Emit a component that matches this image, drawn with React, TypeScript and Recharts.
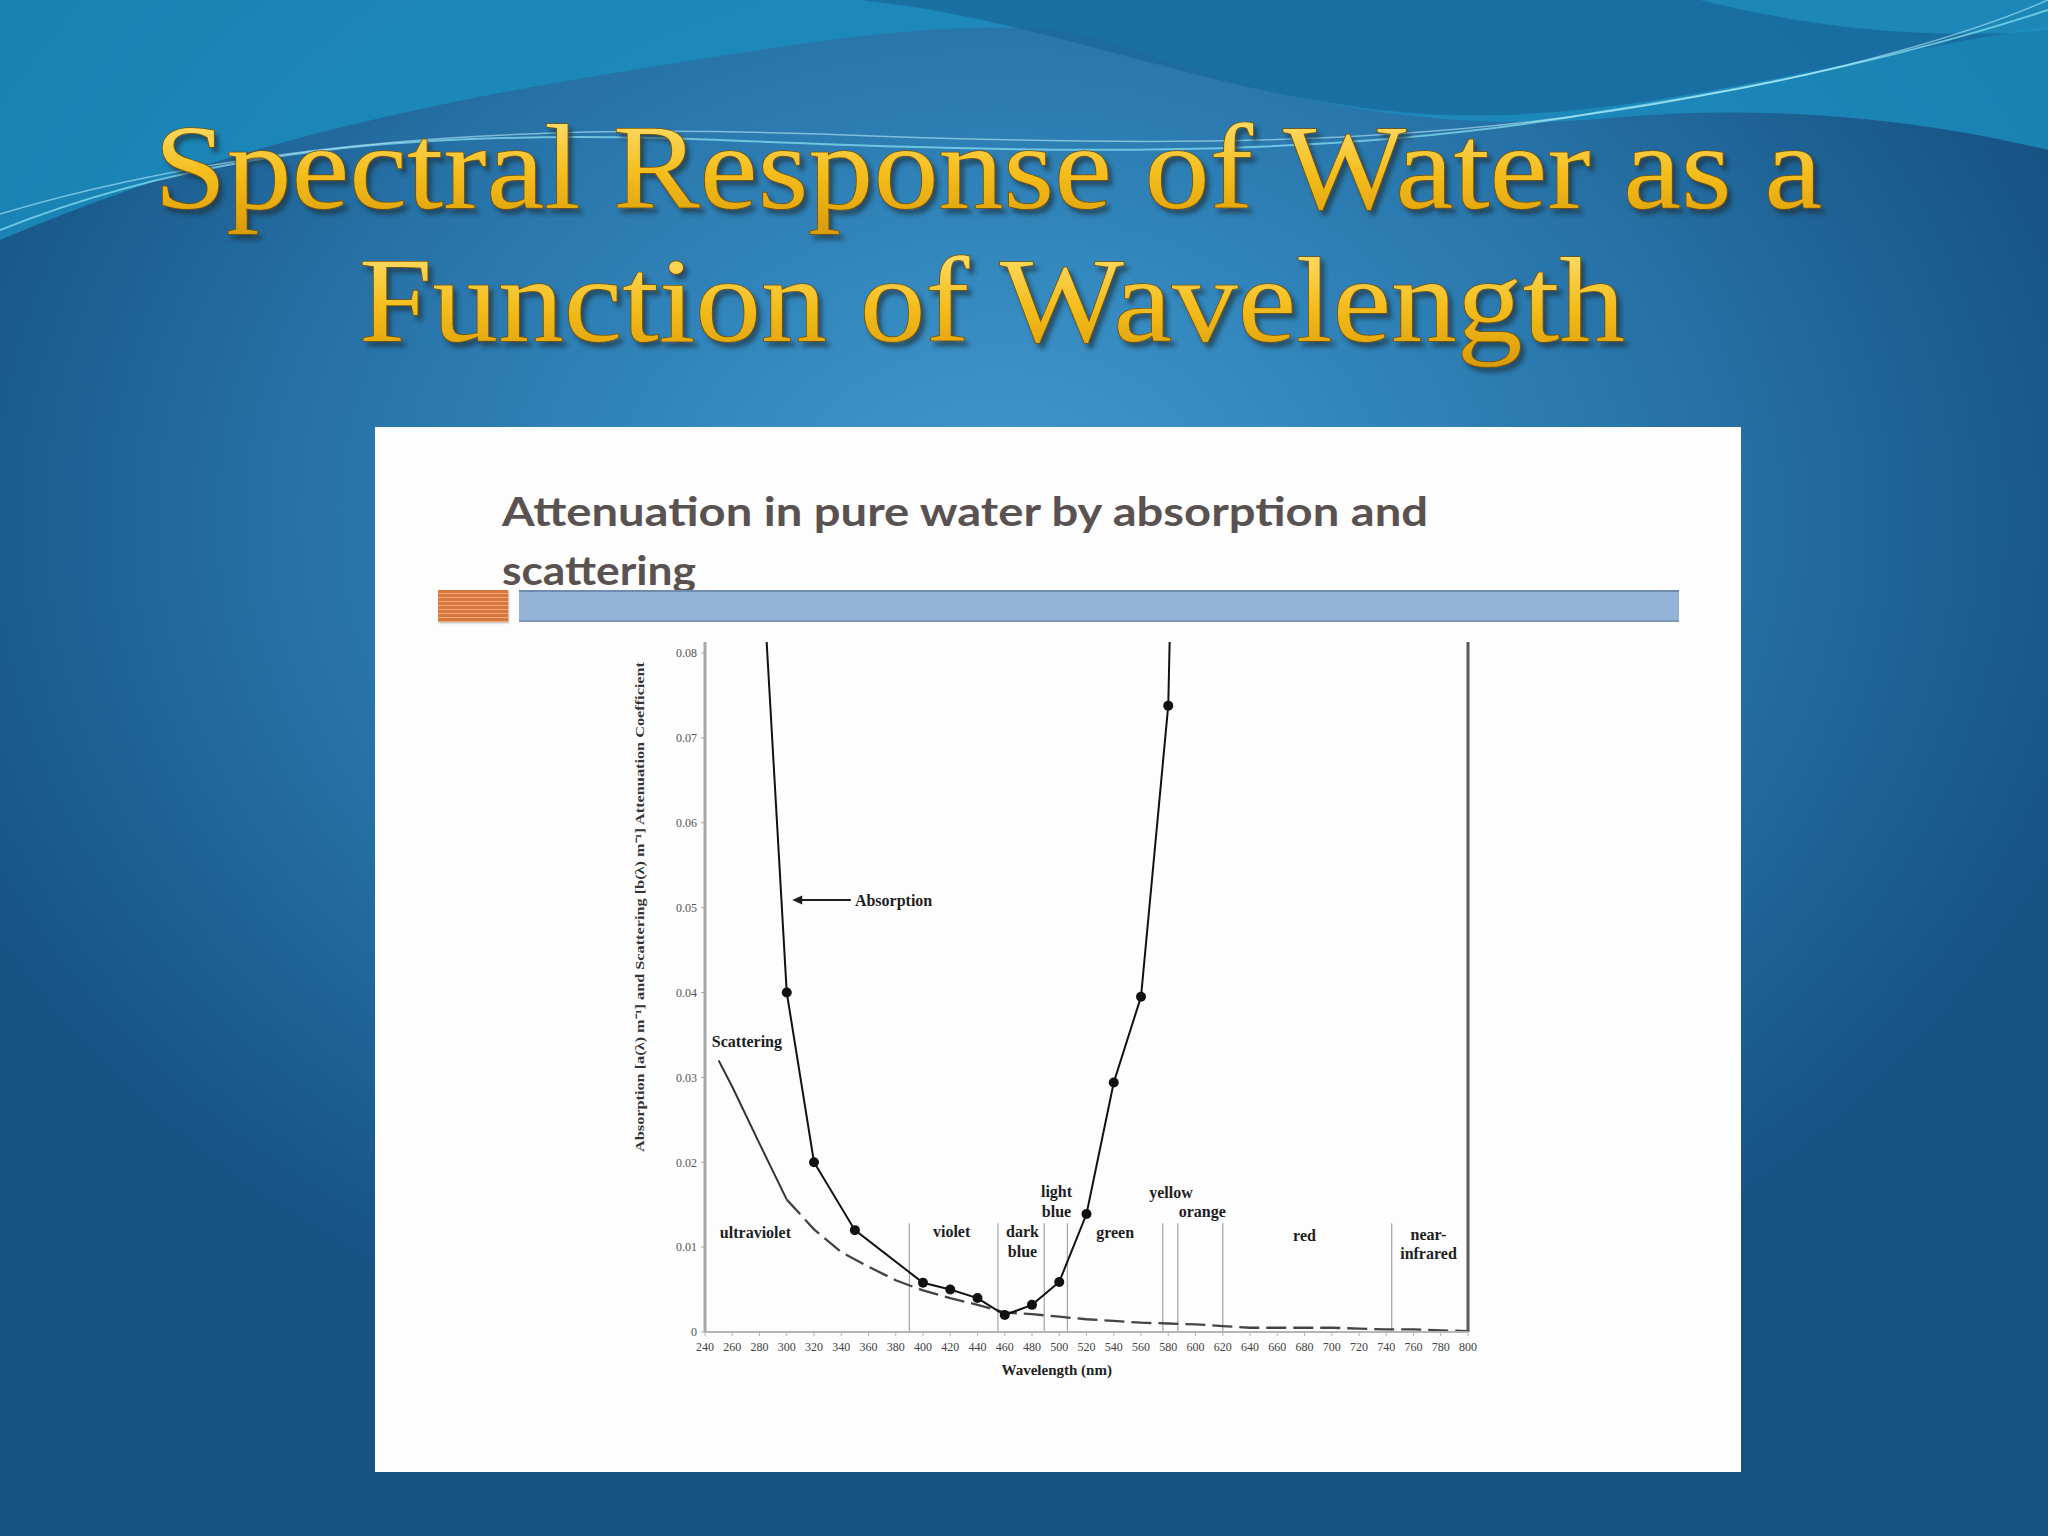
import React from 'react';
import { LineChart, Line, XAxis, YAxis, ReferenceLine, ReferenceDot, Label } from 'recharts';

// ---------- data ----------
const xTicks = [240, 260, 280, 300, 320, 340, 360, 380, 400, 420, 440, 460, 480, 500, 520, 540, 560, 580, 600, 620, 640, 660, 680, 700, 720, 740, 760, 780, 800];
const yTicks = [0, 0.01, 0.02, 0.03, 0.04, 0.05, 0.06, 0.07, 0.08];
const yMax = 0.0813;

const absorptionWavelengths = [280, 300, 320, 350, 400, 420, 440, 460, 480, 500, 520, 540, 560, 580, 600];
const absorptionValues = [0.096, 0.040, 0.020, 0.012, 0.0058, 0.0050, 0.0040, 0.0020, 0.0032, 0.0059, 0.0139, 0.0294, 0.0395, 0.0738, 0.222];

const scatterSolidWavelengths = [250, 260, 280, 300];
const scatterSolidValues = [0.0320, 0.0289, 0.0222, 0.0156];

const scatterDashWavelengths = [300, 320, 340, 360, 380, 400, 420, 440, 460, 480, 500, 520, 540, 560, 580, 600, 620, 640, 660, 680, 700, 720, 740, 760, 780, 800];
const scatterDashValues = [0.0156, 0.0121, 0.0094, 0.0077, 0.0061, 0.0049, 0.0040, 0.0032, 0.0023, 0.0021, 0.0018, 0.0015, 0.0013, 0.0011, 0.0010, 0.0009, 0.0007, 0.0005, 0.0005, 0.0005, 0.0005, 0.0004, 0.0003, 0.0003, 0.0002, 0.0001];

const bandBoundaries = [390, 455, 489, 506, 576, 587, 620, 744];
const bandTop = 0.0128;

const bandLabelTexts = ['ultraviolet', 'violet', 'dark', 'blue', 'light', 'blue', 'green', 'yellow', 'orange', 'red', 'near-', 'infrared'];
const bandLabelWavelengths = [277, 421, 473, 473, 498, 498, 541, 582, 605, 680, 771, 771];
const bandLabelValues = [0.0117, 0.0119, 0.0118, 0.0095, 0.0166, 0.0142, 0.0117, 0.0164, 0.0142, 0.0114, 0.0115, 0.0092];

const absorptionNote = { text: 'Absorption', arrowFrom: 347, arrowTo: 304, value: 0.0509, textAt: 350 };
const scatteringNote = { text: 'Scattering', at: 245, value: 0.0342 };

// ---------- table built from the arrays ----------
const allWavelengths = Array.from(
  new Set([...absorptionWavelengths, ...scatterSolidWavelengths, ...scatterDashWavelengths])
).sort((a, b) => a - b);

const rows = allWavelengths.map((w) => {
  const r: any = { w };
  const ai = absorptionWavelengths.indexOf(w);
  if (ai >= 0) r.absorption = absorptionValues[ai];
  const si = scatterSolidWavelengths.indexOf(w);
  if (si >= 0) r.scatterSolid = scatterSolidValues[si];
  const di = scatterDashWavelengths.indexOf(w);
  if (di >= 0) r.scatterDash = scatterDashValues[di];
  return r;
});

const SERIF = '"Liberation Serif", "Times New Roman", serif';

const textShape = (txt: string, anchor: string = 'middle') => (p: any) => (
  <text
    x={p.cx}
    y={p.cy}
    textAnchor={anchor}
    dominantBaseline="central"
    fontFamily={SERIF}
    fontWeight="bold"
    fontSize={16}
    fill="#1e1e1e"
  >
    {txt}
  </text>
);

const arrowHead = (p: any) => (
  <path d={`M${p.cx},${p.cy} l10,-4.5 l0,9 z`} fill="#1e1e1e" />
);

const absDot = (p: any) => {
  if (p.value == null || p.value > yMax) return <g key={`ad-${p.index}`} />;
  return <circle key={`ad-${p.index}`} cx={p.cx} cy={p.cy} r={5} fill="#111" />;
};

function Chart() {
  return (
    <LineChart
      width={960}
      height={820}
      data={rows}
      margin={{ top: 42, right: 52, bottom: 58, left: 85 }}
    >
      <XAxis
        dataKey="w"
        type="number"
        domain={[240, 800]}
        ticks={xTicks}
        interval={0}
        height={30}
        axisLine={{ stroke: '#b5b5b5', strokeWidth: 2 }}
        tickLine={{ stroke: '#b5b5b5' }}
        tickSize={4}
        tickMargin={6}
        tick={{ fontFamily: SERIF, fontSize: 12, fill: '#444' }}
      >
        <Label
          content={(props: any) => {
            const vb = props.viewBox;
            return (
              <text
                x={vb.x + vb.width * 0.461}
                y={vb.y + 38}
                textAnchor="middle"
                dominantBaseline="central"
                fontFamily={SERIF}
                fontWeight="bold"
                fontSize={15}
                fill="#222"
              >
                Wavelength (nm)
              </text>
            );
          }}
        />
      </XAxis>
      <YAxis
        type="number"
        domain={[0, yMax]}
        allowDataOverflow
        ticks={yTicks}
        interval={0}
        width={60}
        axisLine={{ stroke: '#a8a8a8', strokeWidth: 3 }}
        tickLine={{ stroke: '#a8a8a8' }}
        tickSize={4}
        tickMargin={4}
        tickFormatter={(v: number) => (v === 0 ? '0' : v.toFixed(2))}
        tick={{ fontFamily: SERIF, fontSize: 12, fill: '#555' }}
      >
        <Label
          content={(props: any) => {
            const vb = props.viewBox;
            const cx = vb.x + vb.width - 65;
            const cy = vb.y + vb.height * 0.384;
            return (
              <text
                x={cx}
                y={cy}
                transform={`rotate(-90, ${cx}, ${cy})`}
                textAnchor="middle"
                dominantBaseline="central"
                fontFamily={SERIF}
                fontWeight="bold"
                fontSize={13}
                fill="#333"
                textLength={490}
                lengthAdjust="spacingAndGlyphs"
              >
                Absorption [a(λ) m⁻¹] and Scattering [b(λ) m⁻¹] Attenuation Coefficient
              </text>
            );
          }}
        />
      </YAxis>

      {bandBoundaries.map((b) => (
        <ReferenceLine
          key={`bb-${b}`}
          segment={[{ x: b, y: 0 }, { x: b, y: bandTop }]}
          stroke="#a9a9a9"
          strokeWidth={1.3}
          ifOverflow="visible"
        />
      ))}
      <ReferenceLine x={800} stroke="#5a5a5a" strokeWidth={3} />

      <Line
        type="linear"
        dataKey="scatterSolid"
        stroke="#333"
        strokeWidth={2}
        dot={false}
        connectNulls
        isAnimationActive={false}
      />
      <Line
        type="linear"
        dataKey="scatterDash"
        stroke="#444"
        strokeWidth={2.3}
        strokeDasharray="20 7"
        dot={false}
        connectNulls
        isAnimationActive={false}
      />
      <Line
        type="linear"
        dataKey="absorption"
        stroke="#111"
        strokeWidth={2}
        dot={absDot}
        activeDot={false}
        connectNulls
        isAnimationActive={false}
      />

      {bandLabelTexts.map((t, i) => (
        <ReferenceDot
          key={`bl-${i}`}
          x={bandLabelWavelengths[i]}
          y={bandLabelValues[i]}
          r={0}
          ifOverflow="visible"
          shape={textShape(t)}
        />
      ))}

      <ReferenceLine
        segment={[
          { x: absorptionNote.arrowTo + 3, y: absorptionNote.value },
          { x: absorptionNote.arrowFrom, y: absorptionNote.value },
        ]}
        stroke="#1e1e1e"
        strokeWidth={2}
        ifOverflow="visible"
      />
      <ReferenceDot
        x={absorptionNote.arrowTo}
        y={absorptionNote.value}
        r={0}
        ifOverflow="visible"
        shape={arrowHead}
      />
      <ReferenceDot
        x={absorptionNote.textAt}
        y={absorptionNote.value}
        r={0}
        ifOverflow="visible"
        shape={textShape(absorptionNote.text, 'start')}
      />
      <ReferenceDot
        x={scatteringNote.at}
        y={scatteringNote.value}
        r={0}
        ifOverflow="visible"
        shape={textShape(scatteringNote.text, 'start')}
      />
    </LineChart>
  );
}

export default function App() {
  return (
    <div
      style={{
        position: 'absolute',
        left: 0,
        top: 0,
        width: 2048,
        height: 1536,
        overflow: 'hidden',
        background:
          'radial-gradient(ellipse 1150px 900px at 1000px 520px, #4398cc 0%, #3287bd 30%, #2671a6 62%, #1c5e90 85%, #175283 100%)',
      }}
    >
      <svg width={2048} height={420} style={{ position: 'absolute', left: 0, top: 0 }}>
        <defs>
          <linearGradient id="gold" x1="0" y1="0" x2="0" y2="1">
            <stop offset="0%" stopColor="#ffe680" />
            <stop offset="55%" stopColor="#f4bd1c" />
            <stop offset="100%" stopColor="#d99a06" />
          </linearGradient>
          <filter id="titleShadow" x="-5%" y="-20%" width="110%" height="150%">
            <feDropShadow dx="4" dy="5" stdDeviation="2" floodColor="#1b2a36" floodOpacity="0.6" />
          </filter>
        </defs>
        <path
          d="M0,0 H2048 V150 C1900,115 1760,105 1610,118 C1420,135 1260,95 1110,42 C1000,8 820,40 620,72 C420,104 210,150 0,240 Z"
          fill="#1a8fbf"
          opacity={0.8}
        />
        <path
          d="M860,0 C1050,20 1200,92 1400,112 C1600,132 1820,62 2048,26 V0 Z"
          fill="#1a679b"
          opacity={0.75}
        />
        <path
          d="M1700,0 C1820,30 1940,40 2048,30 V0 Z"
          fill="#1f9ac6"
          opacity={0.6}
        />
        <path
          d="M0,230 C200,150 420,128 720,140 C1020,152 1320,162 1600,112 C1800,82 1950,42 2048,10"
          stroke="#8be4f2"
          strokeWidth={2}
          fill="none"
          opacity={0.7}
        />
        <path
          d="M0,214 C250,140 520,124 820,134 C1120,146 1420,150 1700,96 C1850,70 1980,30 2048,0"
          stroke="#c6f4ff"
          strokeWidth={1.5}
          fill="none"
          opacity={0.55}
        />
        <g fontFamily={SERIF} fontSize={120} filter="url(#titleShadow)">
          <text
            x={154}
            y={208}
            textLength={1668}
            lengthAdjust="spacingAndGlyphs"
            fill="url(#gold)"
            stroke="#7a5200"
            strokeWidth={1.6}
            paintOrder="stroke"
          >
            Spectral Response of Water as a
          </text>
          <text
            x={359}
            y={341}
            textLength={1266}
            lengthAdjust="spacingAndGlyphs"
            fill="url(#gold)"
            stroke="#7a5200"
            strokeWidth={1.6}
            paintOrder="stroke"
          >
            Function of Wavelength
          </text>
        </g>
      </svg>

      <div
        style={{
          position: 'absolute',
          left: 375,
          top: 427,
          width: 1366,
          height: 1045,
          background: '#fdfdfd',
        }}
      />
      <svg width={1366} height={200} style={{ position: 'absolute', left: 375, top: 427 }}>
        <g fontFamily='"Lato", "Open Sans", sans-serif' fontWeight="bold" fontSize={40} fill="#5a5151">
          <text x={127} y={99} textLength={926} lengthAdjust="spacingAndGlyphs">
            Attenuation in pure water by absorption and
          </text>
          <text x={127} y={158} textLength={194} lengthAdjust="spacingAndGlyphs">
            scattering
          </text>
        </g>
      </svg>
      <div
        style={{
          position: 'absolute',
          left: 438,
          top: 590,
          width: 70,
          height: 32,
          background:
            'repeating-linear-gradient(180deg, #d8773d 0px, #d8773d 3px, #f0a878 3px, #f0a878 4px)',
          boxShadow: '1px 1px 2px rgba(0,0,0,0.3)',
        }}
      />
      <div
        style={{
          position: 'absolute',
          left: 519,
          top: 590,
          width: 1160,
          height: 28,
          background: '#94b3d7',
          borderTop: '2px solid #6d8cae',
          borderBottom: '2px solid #7d98b8',
        }}
      />

      <div style={{ position: 'absolute', left: 560, top: 600 }}>
        <Chart />
      </div>
    </div>
  );
}
